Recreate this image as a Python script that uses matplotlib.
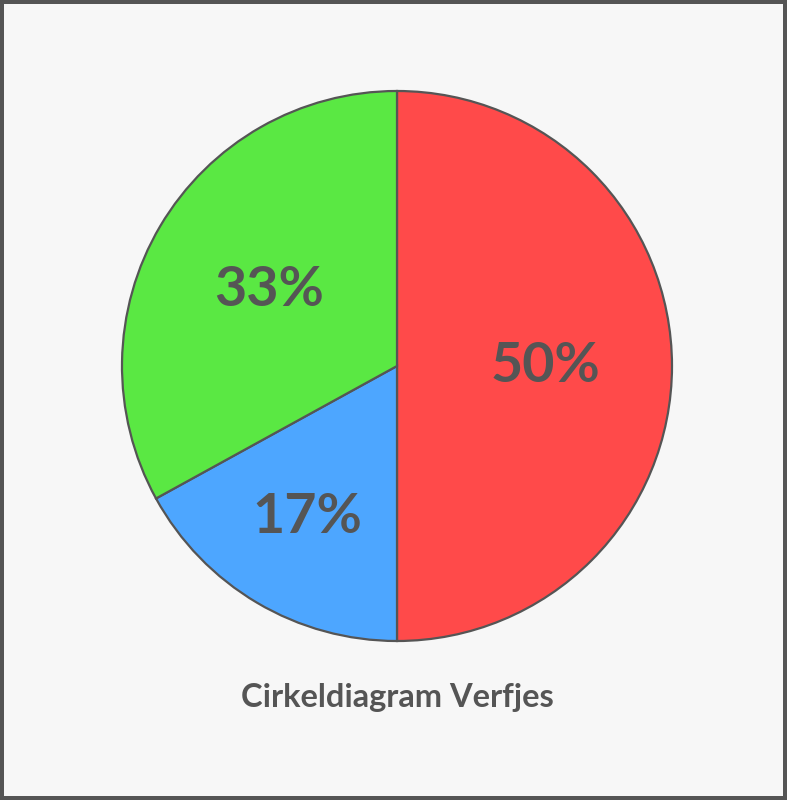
import numpy as np
import matplotlib
matplotlib.use('Agg')
import matplotlib.pyplot as plt

# data
labels = ['Rood', 'Blauw', 'Groen']
values = [50, 17, 33]
colors = ['#ff4a4a', '#4da6ff', '#5ae843']
label_dist = [0.54, 0.64, 0.54]
title = 'Cirkeldiagram Verfjes'

plt.rcParams['font.family'] = ['Lato', 'DejaVu Sans']

fig = plt.figure(figsize=(7.87, 8), dpi=100)
fig.patch.set_facecolor('#f7f7f7')
fig.patch.set_edgecolor('#555555')
fig.patch.set_linewidth(4.5)

# pie axes: center at (397, 366) px, radius 275 px
ax = fig.add_axes([(397 - 275) / 787, (800 - 366 - 275) / 800, 550 / 787, 550 / 800])
wedges, _ = ax.pie(values, colors=colors, startangle=90, counterclock=False,
                   wedgeprops=dict(edgecolor='#555555', linewidth=1.6))
ax.set_xlim(-1, 1)
ax.set_ylim(-1, 1)
ax.set_aspect('equal')
ax.axis('off')

for w, v, d in zip(wedges, values, label_dist):
   ang = np.deg2rad((w.theta1 + w.theta2) / 2)
   ax.text(d * np.cos(ang), d * np.sin(ang), f'{v}%', ha='center', va='center',
           fontsize=40, fontweight='bold', color='#555555')

fig.text(397 / 787, 1 - 697 / 800, title, ha='center', va='center',
         fontsize=23.5, color='#555555', fontweight='bold')

fig.savefig('out.png', dpi=100, facecolor=fig.get_facecolor(), edgecolor=fig.get_edgecolor())
